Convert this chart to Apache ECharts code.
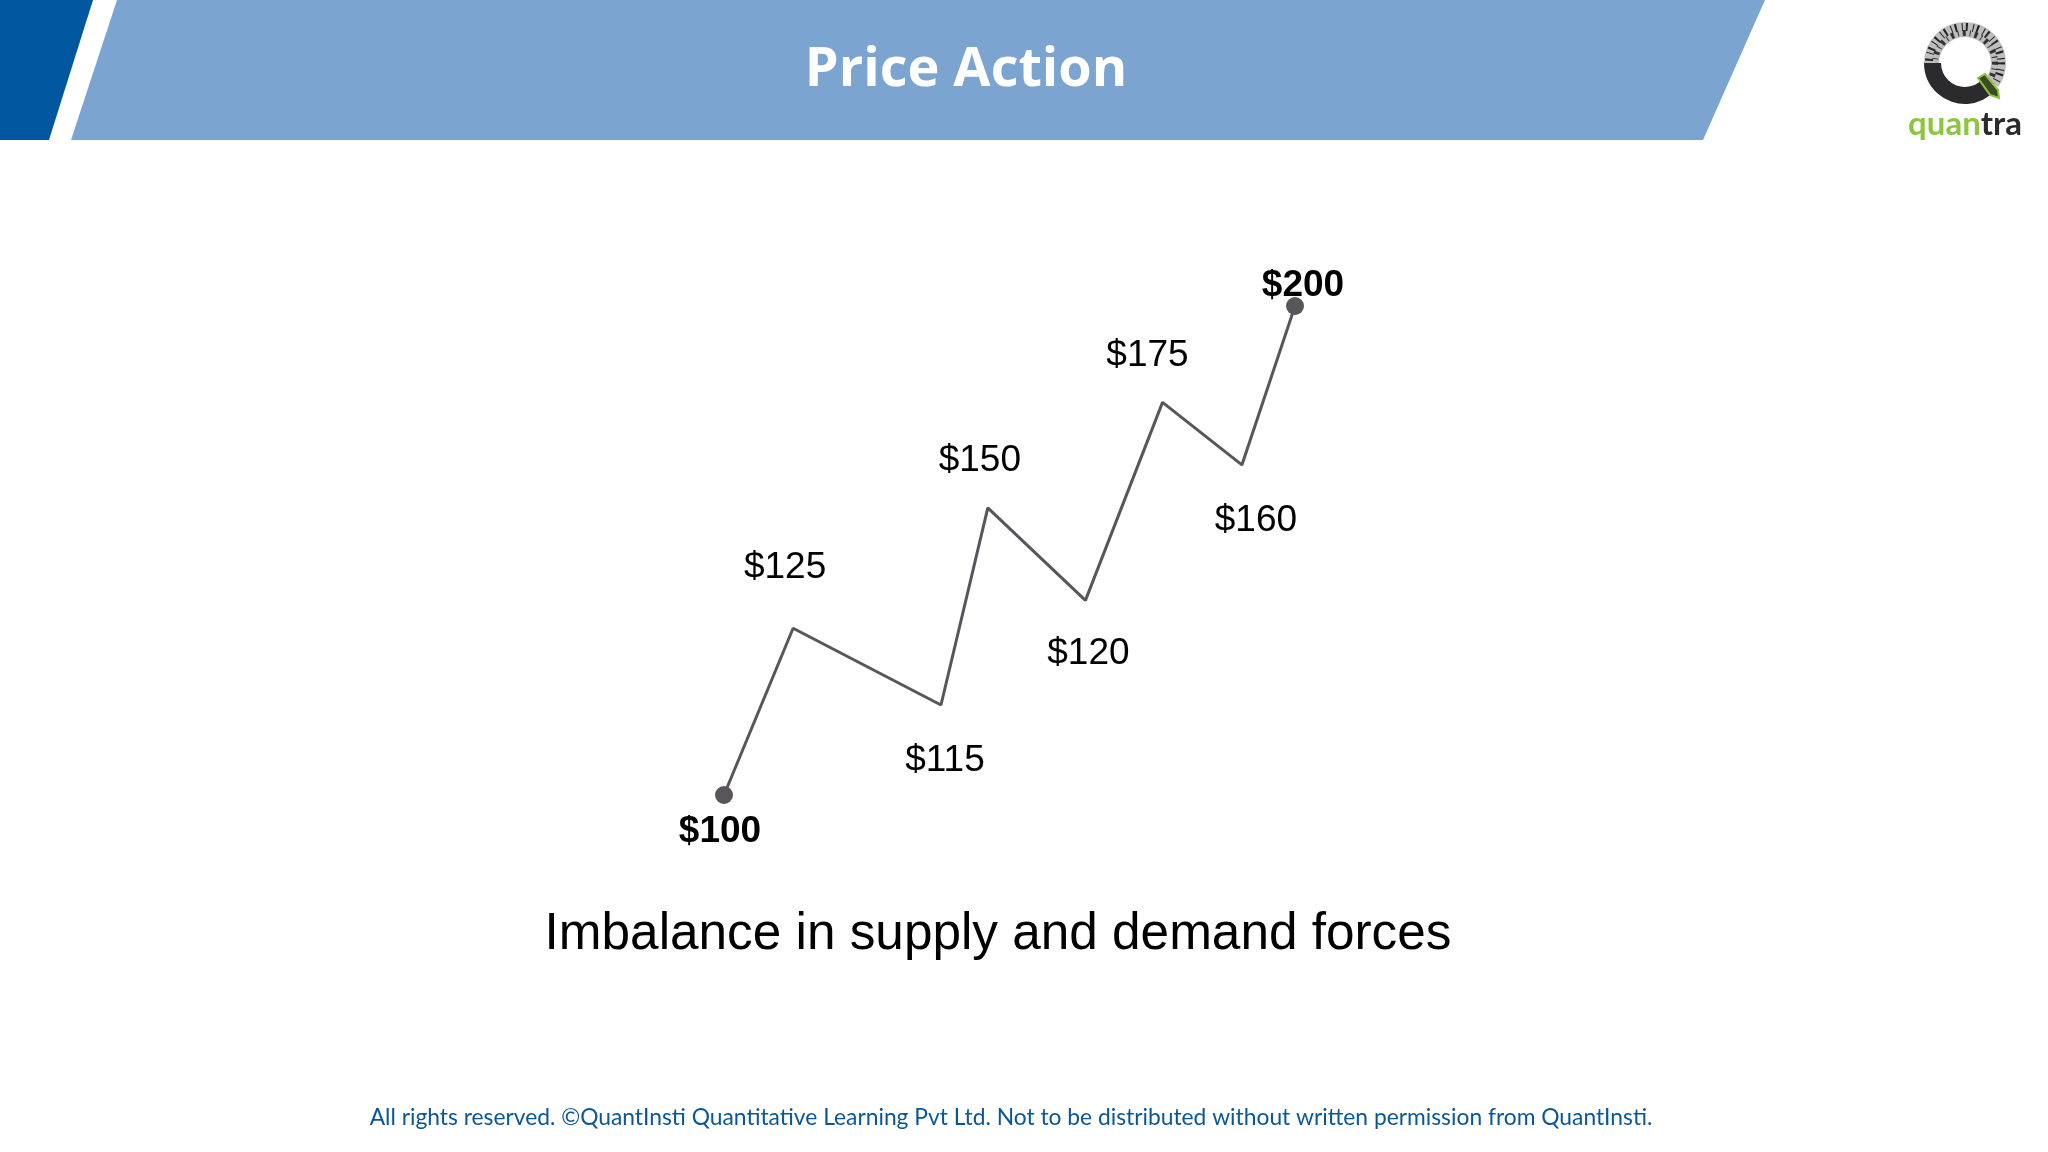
<!DOCTYPE html>
<html>
<head>
<meta charset="utf-8">
<title>Price Action</title>
<style>
html,body{margin:0;padding:0;background:#fff;}
#main{width:2048px;height:1152px;}
</style>
<script src="https://cdn.jsdelivr.net/npm/echarts@6/dist/echarts.min.js"></script>
</head>
<body>
<div id="main"></div>
<script>
// 价格走势 swing points, the picture has no scale so the axes run 0-100
var swingX = [0, 12.1, 38.0, 46.2, 63.3, 76.8, 90.7, 100];
var swingY = [0, 34.1, 18.4, 58.7, 39.8, 80.3, 67.5, 100];
var prices = ['$100', '$125', '$115', '$150', '$120', '$175', '$160', '$200'];

var titleText = 'Price Action';
var captionText = 'Imbalance in supply and demand forces';
var footerText = 'All rights reserved. ©QuantInsti Quantitative Learning Pvt Ltd. Not to be distributed without written permission from QuantInsti.';

var labelOffset = [[-4,37],[-8,-60],[4,56],[-8,-47],[3,53],[-15,-47],[14,56],[8,-20]];

var points = [];
for (var i = 0; i < swingX.length; i++) {
    var isEnd = i === 0 || i === swingX.length - 1;
    points.push({
        value: [swingX[i], swingY[i]],
        symbolSize: isEnd ? 18 : 1,
        label: {
            show: true,
            formatter: prices[i],
            position: 'inside',
            offset: labelOffset[i],
            fontFamily: '"Liberation Sans", Arial, sans-serif',
            fontSize: 37,
            fontWeight: isEnd ? 'bold' : 'normal',
            color: '#000'
        }
    });
}

var myChart = echarts.init(document.getElementById('main'));
var option = {
    animation: false,
    backgroundColor: '#fff',
    grid: { left: 724, top: 306, width: 571, height: 489 },
    xAxis: { type: 'value', min: 0, max: 100, show: false },
    yAxis: { type: 'value', min: 0, max: 100, show: false },
    series: [{
        type: 'line',
        symbol: 'circle',
        showSymbol: true,
        showAllSymbol: true,
        clip: false,
        lineStyle: { color: '#58565a', width: 3 },
        itemStyle: { color: '#58565a' },
        data: points
    }],
    graphic: [
        // 顶部色块
        { type: 'polygon', silent: true, shape: { points: [[0,0],[93,0],[49,140],[0,140]] }, style: { fill: '#0057a0' } },
        { type: 'polygon', silent: true, shape: { points: [[117,0],[1765,0],[1703,140],[71,140]] }, style: { fill: '#7ca4d0' } },
        { type: 'text', silent: true, x: 966, y: 71,
          style: { text: titleText, x: 0, y: 0, align: 'center', verticalAlign: 'middle', fill: '#fff',
                   font: 'bold 54px "Open Sans", sans-serif' } },
        // logo
        { type: 'sector', silent: true, shape: { cx: 1965, cy: 63, r: 41, r0: 24, startAngle: Math.PI * 0.23, endAngle: Math.PI, clockwise: true }, style: { fill: '#2b2b2d' } },
        { type: 'sector', silent: true, shape: { cx: 1965, cy: 63, r: 41, r0: 26, startAngle: Math.PI, endAngle: Math.PI * 2.2, clockwise: true }, style: { fill: '#bdbdbd' } },
        { type: 'arc', silent: true, shape: { cx: 1965, cy: 63, r: 36, startAngle: Math.PI * 1.02, endAngle: Math.PI * 2.18, clockwise: true }, style: { fill: 'none', stroke: '#222', lineWidth: 8, lineDash: [2, 5, 1, 3] } },
        { type: 'arc', silent: true, shape: { cx: 1965, cy: 63, r: 30, startAngle: Math.PI * 1.04, endAngle: Math.PI * 2.15, clockwise: true }, style: { fill: 'none', stroke: '#333', lineWidth: 6, lineDash: [1, 4, 3, 4] } },
        { type: 'polygon', silent: true, shape: { points: [[1978,78],[1985,74],[1998,90],[1999,98],[1990,95]] }, style: { fill: '#3f4a25', stroke: '#8cc63f', lineWidth: 2 } },
        { type: 'text', silent: true, x: 1965, y: 124,
          style: { text: '{g|quan}{d|tra}', x: 0, y: 0, align: 'center', verticalAlign: 'middle',
                   rich: {
                       g: { fill: '#8cc63f', font: 'bold 33px Lato, sans-serif' },
                       d: { fill: '#2b2b2d', font: 'bold 33px Lato, sans-serif' }
                   } } },
        // 说明文字
        { type: 'text', silent: true, x: 998, y: 935,
          style: { text: captionText, x: 0, y: 0, align: 'center', verticalAlign: 'middle', fill: '#000',
                   font: '51.3px "Liberation Sans", Arial, sans-serif' } },
        { type: 'text', silent: true, x: 1011, y: 1118,
          style: { text: footerText, x: 0, y: 0, align: 'center', verticalAlign: 'middle', fill: '#0a5796',
                   font: '22.8px Lato, sans-serif' } }
    ]
};
myChart.setOption(option);
</script>
</body>
</html>
